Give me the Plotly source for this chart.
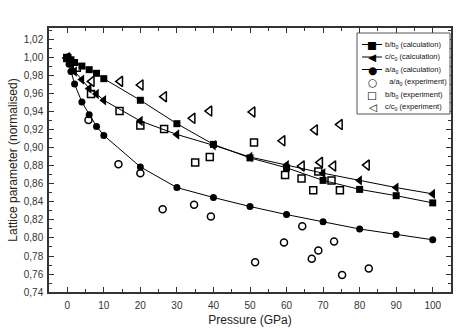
import plotly.graph_objects as go

# calculation series
b_calc_x = [0, 1, 2, 4, 6, 8, 10, 20, 30, 40, 50, 60, 70, 80, 90, 100]
b_calc_y = [1.000, 0.998, 0.995, 0.991, 0.987, 0.983, 0.977, 0.953, 0.927, 0.904, 0.889, 0.878, 0.864, 0.854, 0.847, 0.839]

c_calc_x = [0, 1, 2, 4, 6, 8, 10, 20, 30, 40, 50, 60, 70, 80, 90, 100]
c_calc_y = [1.000, 0.993, 0.985, 0.976, 0.966, 0.960, 0.953, 0.930, 0.915, 0.903, 0.890, 0.881, 0.872, 0.864, 0.856, 0.849]

a_calc_x = [0, 0.5, 1, 2, 4, 6, 8, 10, 20, 30, 40, 50, 60, 70, 80, 90, 100]
a_calc_y = [1.000, 0.993, 0.985, 0.971, 0.951, 0.937, 0.924, 0.914, 0.879, 0.856, 0.845, 0.835, 0.826, 0.818, 0.810, 0.804, 0.798]

# experiment series
a_exp_x = [0, 5.8, 14, 20, 26.1, 34.7, 39.3, 51.4, 59.3, 64.3, 66.9, 68.7, 73.0, 75.2, 82.5]
a_exp_y = [1.000, 0.931, 0.882, 0.872, 0.832, 0.837, 0.824, 0.773, 0.795, 0.813, 0.777, 0.786, 0.796, 0.759, 0.766]

b_exp_x = [0, 2.6, 6.5, 14.3, 20, 26.5, 35, 39, 51.1, 59.6, 64.1, 67.3, 68.7, 72.3, 74.6]
b_exp_y = [1.000, 0.989, 0.960, 0.941, 0.925, 0.921, 0.884, 0.890, 0.906, 0.870, 0.866, 0.853, 0.874, 0.864, 0.853]

c_exp_x = [0, 6.7, 14.5, 20.1, 26.5, 34.3, 38.9, 50.7, 58.9, 64.2, 67.8, 69.2, 72.8, 74.6, 82]
c_exp_y = [1.000, 0.974, 0.974, 0.970, 0.957, 0.933, 0.941, 0.940, 0.908, 0.880, 0.920, 0.884, 0.880, 0.926, 0.881]

x_ticks = [0, 10, 20, 30, 40, 50, 60, 70, 80, 90, 100]
y_ticks = [0.74, 0.76, 0.78, 0.80, 0.82, 0.84, 0.86, 0.88, 0.90, 0.92, 0.94, 0.96, 0.98, 1.00, 1.02]

legend_names = ["b/b<sub>0</sub> (calculation)", "c/c<sub>0</sub> (calculation)",
                "a/a<sub>0</sub> (calculation)", "  a/a<sub>0</sub> (experiment)",
                "b/b<sub>0</sub> (experiment)", "c/c<sub>0</sub> (experiment)"]
legend_glyphs = ["\u25A0", "\u25C0", "\u25CF", "\u25CB", "\u25A1", "\u25C1"]
legend_has_line = [True, True, True, False, False, False]

fig = go.Figure()
line = dict(color="black", width=1)
fig.add_trace(go.Scatter(x=b_calc_x, y=b_calc_y, mode="lines+markers", line=line,
                         marker=dict(symbol="square", size=7, color="black"), name=legend_names[0]))
fig.add_trace(go.Scatter(x=c_calc_x, y=c_calc_y, mode="lines+markers", line=line,
                         marker=dict(symbol="triangle-left", size=9, color="black"), name=legend_names[1]))
fig.add_trace(go.Scatter(x=a_calc_x, y=a_calc_y, mode="lines+markers", line=line,
                         marker=dict(symbol="circle", size=7, color="black"), name=legend_names[2]))
fig.add_trace(go.Scatter(x=a_exp_x, y=a_exp_y, mode="markers",
                         marker=dict(symbol="circle-open", size=7, color="black", line=dict(width=1.5)),
                         name=legend_names[3]))
fig.add_trace(go.Scatter(x=b_exp_x, y=b_exp_y, mode="markers",
                         marker=dict(symbol="square-open", size=7, color="black", line=dict(width=1.5)),
                         name=legend_names[4]))
fig.add_trace(go.Scatter(x=c_exp_x, y=c_exp_y, mode="markers",
                         marker=dict(symbol="triangle-left-open", size=9, color="black", line=dict(width=1.5)),
                         name=legend_names[5]))

axis_common = dict(showline=True, linecolor="#333", linewidth=1.5, mirror="allticks",
                   ticks="inside", ticklen=5, tickcolor="#333", tickwidth=1,
                   showgrid=False, zeroline=False, automargin=False,
                   tickfont=dict(size=10, color="#333"))

fig.update_xaxes(range=[-5, 105], tickvals=x_ticks, ticklabelstandoff=3,
                 title=dict(text="Pressure (GPa)", font=dict(size=12, color="#222"), standoff=6),
                 minor=dict(ticks="inside", ticklen=3, tickcolor="#333", dtick=5, tick0=0),
                 **axis_common)
fig.update_yaxes(range=[0.74, 1.0333], tickvals=y_ticks, tickformat=".2f", ticklabelstandoff=2,
                 title=dict(text="Lattice parameter (normalised)", font=dict(size=12, color="#222"), standoff=4),
                 minor=dict(ticks="inside", ticklen=3, tickcolor="#333", dtick=0.01, tick0=0.74),
                 **axis_common)

# custom compact legend (layout only: paper coordinates)
W, H = 474, 330
L, R, T, B = 49, 23, 28, 38
pw, ph = W - L - R, H - T - B
def px(x): return (x - L) / pw
def py(y): return 1 - (y - T) / ph

shapes = [dict(type="rect", xref="paper", yref="paper",
               x0=px(357), x1=px(450), y0=py(114), y1=py(33),
               line=dict(color="#555", width=1), fillcolor="white", layer="above")]
annotations = []
row0, step = 44.5, 12.5
for i, (name, glyph, has_line) in enumerate(zip(legend_names, legend_glyphs, legend_has_line)):
    yc = row0 + i * step
    if has_line:
        shapes.append(dict(type="line", xref="paper", yref="paper",
                           x0=px(362), x1=px(382), y0=py(yc), y1=py(yc),
                           line=dict(color="black", width=1), layer="above"))
    annotations.append(dict(xref="paper", yref="paper", x=px(372), y=py(yc),
                            text="<b>" + glyph + "</b>", showarrow=False, xanchor="center", yanchor="middle",
                            font=dict(family="DejaVu Sans", size=10.5, color="black")))
    annotations.append(dict(xref="paper", yref="paper", x=px(383), y=py(yc),
                            text=name, showarrow=False, xanchor="left", yanchor="middle",
                            font=dict(family="Liberation Sans, Arial, sans-serif", size=7.5, color="#111")))

fig.update_layout(
    width=W, height=H,
    margin=dict(l=L, r=R, t=T, b=B),
    paper_bgcolor="white", plot_bgcolor="white",
    separators=", ",
    font=dict(family="Liberation Sans, Arial, sans-serif", color="#222"),
    showlegend=False,
    shapes=shapes,
    annotations=annotations,
)

fig.write_html("out.html")
